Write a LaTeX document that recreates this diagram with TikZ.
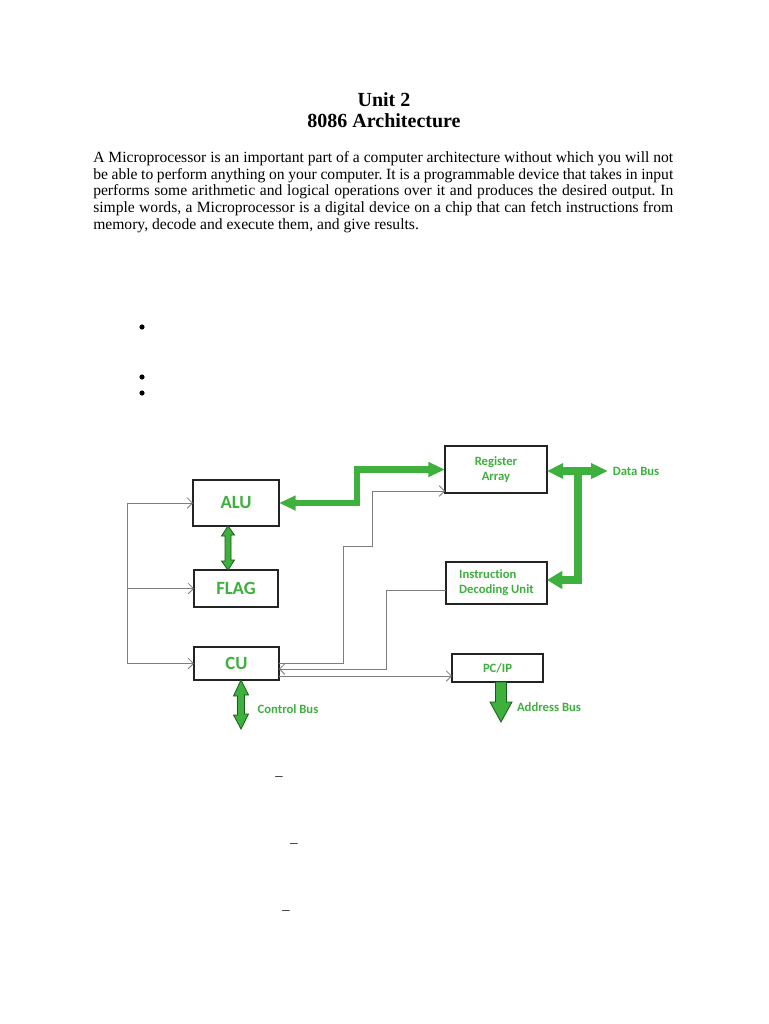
\documentclass[tikz,border=0pt]{standalone}
\usepackage{fontspec}
\setmainfont{Liberation Serif}
\newfontfamily\calib[Ligatures=NoCommon]{Carlito}
\usetikzlibrary{arrows.meta}
\definecolor{gr}{RGB}{61,176,61}
\definecolor{dgr}{RGB}{25,90,25}
\definecolor{ln}{RGB}{125,125,125}
\definecolor{bx}{RGB}{35,35,35}
\begin{document}
\begin{tikzpicture}[x=0.75pt,y=-0.75pt,
  box/.style={draw=bx, line width=0.9pt, inner sep=0pt, outer sep=0pt, align=center, text=gr},
  big/.style={font=\calib\bfseries\fontsize{14}{16}\selectfont},
  small/.style={font=\calib\bfseries\fontsize{9.5}{11.2}\selectfont},
  lbl/.style={small, text=gr, inner sep=0pt},
  thinarr/.style={draw=ln, line width=0.55pt, -{Straight Barb[length=4pt,width=8pt]}},
  busa/.style={draw=gr, line width=4.8pt, line join=miter},
  busb/.style={draw=gr, line width=6pt, line join=miter},
  blk/.style={fill=gr, draw=dgr, line width=0.6pt, line join=miter}
]
\useasboundingbox[fill=white] (0,0) rectangle (768,1024);

% title and paragraph
\node[font=\bfseries\fontsize{15}{16}\selectfont] (t1) at (384,100) {Unit 2};
\node[font=\bfseries\fontsize{15}{16}\selectfont] (t2) at (384,121) {8086 Architecture};
\node[anchor=north west, inner sep=0pt, text width=435pt, align=justify,
      font=\fontsize{11.7}{12.6}\selectfont\frenchspacing] (par) at (93,151)
{A Microprocessor is an important part of a computer architecture without which you will not\linebreak
be able to perform anything on your computer. It is a programmable device that takes in input\linebreak
performs some arithmetic and logical operations over it and produces the desired output. In\linebreak
simple words, a Microprocessor is a digital device on a chip that can fetch instructions from\linebreak
memory, decode and execute them, and give results.};

% bullets
\fill (142,327) circle (2.6);
\fill (142,377) circle (2.6);
\fill (142,393) circle (2.6);

% boxes
\node[box, big, minimum width=64.5pt, minimum height=34.5pt] (alu) at (236,503) {ALU};
\node[box, big, minimum width=63pt, minimum height=27.75pt] (flag) at (236,588.5) {FLAG};
\node[box, big, minimum width=63.75pt, minimum height=24.75pt] (cu) at (236.5,663.5) {CU};
\node[box, small, minimum width=76.5pt, minimum height=35.25pt] (ra) at (496,469.5) {Register\\Array};
\node[box, small, minimum width=75.75pt, minimum height=31.5pt, align=left] (idu) at (496.5,583) {Instruction\\Decoding Unit};
\node[box, small, minimum width=68.25pt, minimum height=21pt] (pc) at (497.5,668) {PC/IP};

% labels
\node[lbl] (db) at (636,471) {Data Bus};
\node[lbl] (cb) at (288,709) {Control Bus};
\node[lbl] (ab) at (549,707) {Address Bus};

% thin control lines
\coordinate (bus) at (127,503);
\draw[thinarr] (bus) -- (alu.west);
\draw[thinarr] (bus |- flag.west) -- (flag.west);
\draw[thinarr] (bus) |- (cu.west);
\draw[thinarr] (cu.east |- 0,663) -| (343,546) -| (372,491) -- (ra.west |- 0,491);
\draw[thinarr] (idu.west |- 0,590) -| (386,669) -- (cu.east |- 0,669);
\draw[thinarr] (cu.east |- 0,676) -- (pc.west |- 0,676);

% thick buses
\draw[busa, {Triangle[length=12.5pt,width=10.5pt]}-{Triangle[length=12.5pt,width=10.5pt]}] (alu.east) -- (357,503) |- (ra.west);
\draw[busb, {Triangle[length=12pt,width=11pt]}-{Triangle[length=12.5pt,width=11pt]}] (ra.east |- 0,471) -- ([xshift=-3.5pt]db.west |- 0,471);
\draw[busb, -{Triangle[length=11.5pt,width=13pt]}] (578,471) |- (idu.east |- 0,580);

% block arrows
\path[blk] (alu.south -| 228,0) -- ++(6.5,9) -- ++(-3.5,0) -- ++(0,25) -- ++(3.5,0)
   -- (flag.north -| 228,0) -- ++(-6.5,-9) -- ++(3.5,0) -- ++(0,-25) -- ++(-3.5,0) -- cycle;
\path[blk] (cu.south -| 241,0) -- ++(7.5,15) -- ++(-4,0) -- ++(0,19) -- ++(4,0)
   -- (241,729) -- ++(-7.5,-14) -- ++(4,0) -- ++(0,-19) -- ++(-4,0) -- cycle;
\path[blk] (pc.south -| 495.5,0) -- (pc.south -| 506.5,0) -- (506.5,702) -- (512,702)
   -- (501,722) -- (490,702) -- (495.5,702) -- cycle;

% stray dashes
\node[font=\fontsize{11}{12}\selectfont, inner sep=0pt] (d1) at (279,779) {–};
\node[font=\fontsize{11}{12}\selectfont, inner sep=0pt] (d2) at (294,846) {–};
\node[font=\fontsize{11}{12}\selectfont, inner sep=0pt] (d3) at (286,913) {–};
\end{tikzpicture}
\end{document}
